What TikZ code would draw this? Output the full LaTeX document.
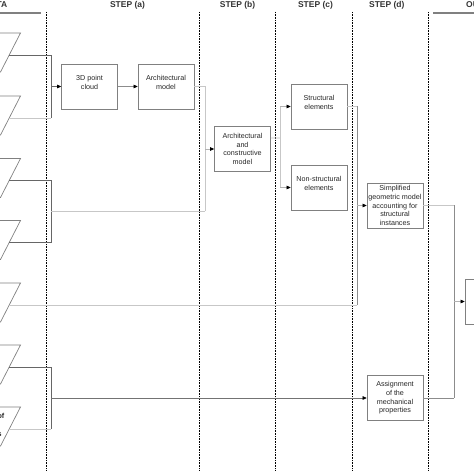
\documentclass[tikz,border=0pt]{standalone}
\usepackage{fontspec}
\setmainfont{Liberation Sans}
\usetikzlibrary{arrows.meta,calc}
\begin{document}
\begin{tikzpicture}[x=1bp,y=-1bp,
  hdr/.style={font=\fontsize{8.5}{10}\selectfont\bfseries, text=black!80, inner sep=0},
  box/.style={draw=black!50, line width=0.7bp, minimum width=56bp, minimum height=45bp, inner sep=0, align=center, font=\fontsize{7.2}{8.7}\selectfont, text=black!85},
  datatxt/.style={inner sep=0, align=center, font=\fontsize{7.2}{8.7}\selectfont\bfseries, text=black!85},
  para/.style={draw=black!50, line width=0.7bp},
  sepline/.style={draw=black, line width=0.8bp, dash pattern=on 0.8bp off 0.8bp},
  hline/.style={draw=black!50, line width=1.2bp},
  dk/.style={draw=black!60, line width=0.7bp},
  md/.style={draw=black!45, line width=0.7bp},
  lt/.style={draw=black!22, line width=0.7bp},
  arr/.style={draw=black!60, line width=0.6bp, -{Triangle[length=4bp,width=3.6bp,color=black]}}
]
\useasboundingbox (0,0) rectangle (474,474);

% headers
\node[hdr, anchor=base east] (hdata) at (7.5,7.6) {DATA};
\node[hdr, anchor=base] (ha) at (127.5,7.6) {STEP (a)};
\node[hdr, anchor=base] (hb) at (237.5,7.6) {STEP (b)};
\node[hdr, anchor=base] (hc) at (315.5,7.6) {STEP (c)};
\node[hdr, anchor=base] (hd) at (386.8,7.6) {STEP (d)};
\node[hdr, anchor=base west] (hout) at (466,7.6) {OUTPUT};
\draw[hline] (0,13) -- (40.5,13);
\draw[hline] (433,13) -- (474,13);

% column separators
\foreach \x in {46,199,275,352,428} \draw[sepline] (\x,12) -- (\x,470);

% data parallelograms
\foreach \t [count=\i] in {33,96,158.5,220.5,283,345,407} {
  \draw[para] (-60,\t) -- (20.5,\t) -- (0.5,{\t+39}) -- (-80,{\t+39}) -- cycle;
  \coordinate (d\i o) at (9.2,{\t+22});
}
\node[datatxt] (d7) at (-16,425.5) {Database of\\the\\properties};

% boxes
\node[box] (pc)  at (89.5,86.5) {3D point\\cloud\\\mbox{}};
\node[box] (am)  at (166,86.5) {Architectural\\model\\\mbox{}};
\node[box] (acm) at (242.5,149) {Architectural\\and\\constructive\\model};
\node[box] (se)  at (319,106.5) {Structural\\elements\\\mbox{}};
\node[box] (nse) at (319,187.5) {Non-structural\\elements\\\mbox{}};
\node[box] (sgm) at (395,205.5) {Simplified\\geometric model\\accounting for\\structural\\instances};
\node[box] (amp) at (395,398) {Assignment\\of the\\mechanical\\properties};
\node[box] (out) at (493,301.5) {};

% junction coordinates
\coordinate (b1) at (51,{33+22});
\coordinate (b2) at (51,{96+22});
\coordinate (j1) at (51,86.5);
\coordinate (b3) at (51,{158.5+22});
\coordinate (b4) at (51,{220.5+22});
\coordinate (j3) at (51,211);
\coordinate (c1) at (205,86.5);
\coordinate (c2) at (205,211);
\coordinate (c3) at (205,149);
\coordinate (c4) at (280,138);
\coordinate (c5) at (280,106.5);
\coordinate (c6) at (280,187.5);
\coordinate (c7) at (357,106.5);
\coordinate (c8) at (357,{283+22});
\coordinate (c9) at (357,205.5);
\coordinate (c10) at (454,205.5);
\coordinate (c11) at (454,398);
\coordinate (c12) at (454,301.5);
\coordinate (b6) at (51,{345+22});
\coordinate (b7) at (51,{407+22});
\coordinate (j7) at (51,398);

% connectors
\draw[dk] (d1o) -- (b1) -- (b2);
\draw[lt] (d2o) -- (b2);
\draw[arr] (j1) -- (pc.west);
\draw[arr, draw=black!45] (pc.east) -- (am.west);

\draw[dk] (d3o) -- (b3) -- (b4);
\draw[dk] (d4o) -- (b4);
\draw[lt] (j3) -- (c2);
\draw[lt] (am.east) -- (c1) -- (c2);
\draw[arr, draw=black!30] (c3) -- (acm.west);

\draw[lt] ([yshift=11bp]acm.east) -- (c4);
\draw[lt] (c5) -- (c6);
\draw[arr, draw=black!30] (c5) -- (se.west);
\draw[arr, draw=black!30] (c6) -- (nse.west);

\draw[lt] (se.east) -- (c7);
\draw[md] (c7) -- (c8);
\draw[lt] (d5o) -- (c8);
\draw[arr, draw=black!30] (c9) -- (sgm.west);

\draw[lt] (sgm.east) -- (c10);
\draw[md] (c10) -- (c11);
\draw[md] (amp.east) -- (c11);
\draw[arr, draw=black!30] (c12) -- (out.west);

\draw[dk] (d6o) -- (b6) -- (b7);
\draw[lt] (d7o) -- (b7);
\draw[arr, draw=black!55] (j7) -- (amp.west);
\end{tikzpicture}
\end{document}
